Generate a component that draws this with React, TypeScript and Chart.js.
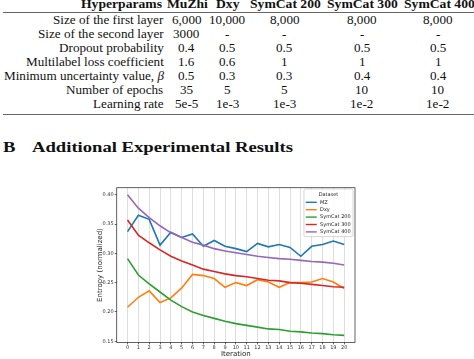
import React, { useEffect, useRef } from 'react';
import { Chart, registerables } from 'chart.js';

Chart.register(...registerables);

// ---------------- Table data ----------------
const tableHeaders = ['Hyperparams', 'MuZhi', 'Dxy', 'SymCat 200', 'SymCat 300', 'SymCat 400'];
const rowLabels = [
  'Size of the first layer',
  'Size of the second layer',
  'Dropout probability',
  'Multilabel loss coefficient',
  'Minimum uncertainty value, β',
  'Number of epochs',
  'Learning rate',
];
const muzhiParams = ['6,000', '3000', '0.4', '1.6', '0.5', '35', '5e-5'];
const dxyParams = ['10,000', '-', '0.5', '0.6', '0.3', '5', '1e-3'];
const symcat200Params = ['8,000', '-', '0.5', '1', '0.3', '5', '1e-3'];
const symcat300Params = ['8,000', '-', '0.5', '1', '0.4', '10', '1e-2'];
const symcat400Params = ['8,000', '-', '0.5', '1', '0.4', '10', '1e-2'];
const sectionLetter = 'B';
const sectionTitle = 'Additional Experimental Results';

// ---------------- Chart data ----------------
const iterations = [0, 1, 2, 3, 4, 5, 6, 7, 8, 9, 10, 11, 12, 13, 14, 15, 16, 17, 18, 19, 20];
const mzValues = [0.337, 0.365, 0.358, 0.314, 0.336, 0.327, 0.333, 0.312, 0.322, 0.312, 0.308, 0.303, 0.317, 0.311, 0.315, 0.310, 0.295, 0.312, 0.315, 0.321, 0.315];
const dxyValues = [0.208, 0.225, 0.236, 0.216, 0.224, 0.241, 0.264, 0.262, 0.257, 0.242, 0.250, 0.245, 0.255, 0.251, 0.242, 0.250, 0.250, 0.251, 0.257, 0.251, 0.240];
const symcat200Values = [0.291, 0.263, 0.248, 0.234, 0.220, 0.209, 0.200, 0.194, 0.189, 0.184, 0.180, 0.177, 0.174, 0.171, 0.170, 0.167, 0.166, 0.164, 0.163, 0.161, 0.160];
const symcat300Values = [0.357, 0.331, 0.318, 0.306, 0.295, 0.287, 0.280, 0.273, 0.269, 0.265, 0.262, 0.260, 0.257, 0.254, 0.253, 0.250, 0.249, 0.247, 0.245, 0.243, 0.242];
const symcat400Values = [0.400, 0.377, 0.361, 0.347, 0.335, 0.327, 0.319, 0.314, 0.308, 0.304, 0.301, 0.298, 0.295, 0.293, 0.291, 0.290, 0.288, 0.286, 0.285, 0.283, 0.280];
const seriesNames = ['MZ', 'Dxy', 'SymCat 200', 'SymCat 300', 'SymCat 400'];
const seriesColors = ['#1f77b4', '#ff7f0e', '#2ca02c', '#d62728', '#9467bd'];
const yTickValues = [0.15, 0.2, 0.25, 0.3, 0.35, 0.4];
const legendTitle = 'Dataset';
const xAxisTitle = 'Iteration';
const yAxisTitle = 'Entropy (normalized)';

// ---------------- Text helpers ----------------
const SERIF = '"Liberation Serif", "Times New Roman", serif';
const SANS = '"DejaVu Sans", sans-serif';
let measureCtx: CanvasRenderingContext2D | null = null;
function textWidth(text: string, font: string): number {
  if (!measureCtx) measureCtx = document.createElement('canvas').getContext('2d');
  measureCtx!.font = font;
  return measureCtx!.measureText(text).width;
}

type Part = { t: string; italic?: boolean };
function splitBeta(s: string): Part[] {
  if (s.endsWith('β')) return [{ t: s.slice(0, -1) }, { t: 'β', italic: true }];
  return [{ t: s }];
}
function fontFor(size: number, bold: boolean, italic?: boolean) {
  return `${italic ? 'italic ' : ''}${bold ? 'bold ' : ''}${size}px ${SERIF}`;
}
function partsWidth(parts: Part[], size: number, bold: boolean) {
  return parts.reduce((a, p) => a + textWidth(p.t, fontFor(size, bold, p.italic)), 0);
}

function Txt(props: { parts: Part[]; x: number; y: number; anchor: 'left' | 'right' | 'center'; size: number; bold?: boolean; sx: number }) {
  const { parts, x, y, anchor, size, bold = false, sx } = props;
  const w = partsWidth(parts, size, bold) * sx;
  const left = anchor === 'left' ? x : anchor === 'right' ? x - w : x - w / 2;
  const lh = size * 1.2;
  return (
    <div
      style={{
        position: 'absolute',
        left,
        top: y - lh / 2,
        fontFamily: SERIF,
        fontSize: size,
        fontWeight: bold ? 'bold' : 'normal',
        lineHeight: `${lh}px`,
        whiteSpace: 'nowrap',
        transform: `scaleX(${sx})`,
        transformOrigin: 'left center',
        color: '#111',
      }}
    >
      {parts.map((p, i) => (
        <span key={i} style={{ fontStyle: p.italic ? 'italic' : 'normal' }}>{p.t}</span>
      ))}
    </div>
  );
}

function TableBlock() {
  const bodySize = 12.2;
  const headSize = 12.2;
  const secSize = 15;
  const sxBody = 160 / partsWidth(splitBeta(rowLabels[4]), bodySize, false);
  const sxHead = 81 / partsWidth([{ t: tableHeaders[0] }], headSize, true);
  const sxSec = 261 / partsWidth([{ t: sectionTitle }], secSize, true);
  const colCenters = [186.5, 227.5, 284.5, 362, 438];
  const headCenters = [187, 228, 285, 362, 439];
  const labelRight = 163.5;
  const headerY = 4.5;
  const rowY0 = 20;
  const rowStep = 14.05;
  const columns = [muzhiParams, dxyParams, symcat200Params, symcat300Params, symcat400Params];
  const els: React.ReactNode[] = [];
  els.push(<Txt key="h0" parts={[{ t: tableHeaders[0] }]} x={162} y={headerY} anchor="right" size={headSize} bold sx={sxHead} />);
  for (let c = 1; c < tableHeaders.length; c++) {
    els.push(<Txt key={'h' + c} parts={[{ t: tableHeaders[c] }]} x={headCenters[c - 1]} y={headerY} anchor="center" size={headSize} bold sx={sxHead} />);
  }
  rowLabels.forEach((lab, r) => {
    const y = rowY0 + r * rowStep;
    els.push(<Txt key={'l' + r} parts={splitBeta(lab)} x={labelRight} y={y} anchor="right" size={bodySize} sx={sxBody} />);
    columns.forEach((col, c) => {
      els.push(<Txt key={`c${r}_${c}`} parts={[{ t: col[r] }]} x={colCenters[c]} y={y} anchor="center" size={bodySize} sx={sxBody} />);
    });
  });
  els.push(<div key="rule1" style={{ position: 'absolute', left: 3, top: 12, width: 480, height: 1.4, background: '#666' }} />);
  els.push(<div key="rule2" style={{ position: 'absolute', left: 3, top: 113.6, width: 480, height: 1.4, background: '#666' }} />);
  els.push(<Txt key="secB" parts={[{ t: sectionLetter }]} x={3} y={146.8} anchor="left" size={secSize} bold sx={sxSec} />);
  els.push(<Txt key="secT" parts={[{ t: sectionTitle }]} x={32} y={146.8} anchor="left" size={secSize} bold sx={sxSec} />);
  return <>{els}</>;
}

// ---------------- Chart ----------------
const framePlugin = {
  id: 'mplFrame',
  afterDraw(chart: any) {
    const { ctx, chartArea } = chart;
    ctx.save();
    ctx.strokeStyle = '#3a3a3a';
    ctx.lineWidth = 0.8;
    ctx.strokeRect(chartArea.left, chartArea.top, chartArea.right - chartArea.left, chartArea.bottom - chartArea.top);
    ctx.restore();
  },
};

const legendPlugin = {
  id: 'mplLegend',
  afterDatasetsDraw(chart: any) {
    const { ctx, chartArea } = chart;
    const fontPx = 5;
    ctx.save();
    ctx.font = `${fontPx}px ${SANS}`;
    const labels: string[] = chart.data.datasets.map((d: any) => d.label);
    const textW = Math.max(...labels.map((l) => ctx.measureText(l).width));
    const padL = 1.8, lineLen = 11, gap = 3.3, padR = 2.3;
    const boxW = padL + lineLen + gap + textW + padR;
    const rowH = 7.4;
    const boxH = 13.3 + rowH * (labels.length - 1) + 4.7;
    const right = chartArea.right - 2;
    const left = right - boxW;
    const top = chartArea.top + 1.3;
    ctx.beginPath();
    const r = 1.5;
    ctx.moveTo(left + r, top);
    ctx.lineTo(left + boxW - r, top);
    ctx.quadraticCurveTo(left + boxW, top, left + boxW, top + r);
    ctx.lineTo(left + boxW, top + boxH - r);
    ctx.quadraticCurveTo(left + boxW, top + boxH, left + boxW - r, top + boxH);
    ctx.lineTo(left + r, top + boxH);
    ctx.quadraticCurveTo(left, top + boxH, left, top + boxH - r);
    ctx.lineTo(left, top + r);
    ctx.quadraticCurveTo(left, top, left + r, top);
    ctx.closePath();
    ctx.fillStyle = 'rgba(255,255,255,0.85)';
    ctx.fill();
    ctx.strokeStyle = '#cccccc';
    ctx.lineWidth = 0.8;
    ctx.stroke();
    ctx.fillStyle = '#222';
    ctx.textBaseline = 'middle';
    ctx.textAlign = 'center';
    ctx.fillText(legendTitle, left + boxW / 2, top + 6);
    ctx.textAlign = 'left';
    chart.data.datasets.forEach((d: any, i: number) => {
      const y = top + 13.3 + i * rowH;
      ctx.strokeStyle = d.borderColor;
      ctx.lineWidth = 1.4;
      ctx.beginPath();
      ctx.moveTo(left + padL, y);
      ctx.lineTo(left + padL + lineLen, y);
      ctx.stroke();
      ctx.fillStyle = '#222';
      ctx.fillText(d.label, left + padL + lineLen + gap, y);
    });
    ctx.restore();
  },
};

function EntropyChart() {
  const ref = useRef<HTMLCanvasElement | null>(null);
  useEffect(() => {
    if (!ref.current) return;
    const seriesValues = [mzValues, dxyValues, symcat200Values, symcat300Values, symcat400Values];
    const datasets = seriesNames.map((name, i) => ({
      label: name,
      data: seriesValues[i].map((v, j) => ({ x: iterations[j], y: v })),
      borderColor: seriesColors[i],
      backgroundColor: seriesColors[i],
      borderWidth: 1.6,
      pointRadius: 0,
      tension: 0,
      fill: false,
      order: seriesNames.length - i,
    }));
    const tickFont = { family: SANS, size: 5 };
    const titleFont = { family: SANS, size: 7 };
    const chart = new Chart(ref.current, {
      type: 'line',
      data: { datasets },
      options: {
        animation: false,
        responsive: false,
        devicePixelRatio: 1,
        layout: { padding: { left: 0, right: 5, top: 7.7, bottom: 0 } },
        plugins: { legend: { display: false }, tooltip: { enabled: false } },
        scales: {
          x: {
            type: 'linear',
            min: -1,
            max: 21,
            afterBuildTicks: (s: any) => { s.ticks = iterations.map((v) => ({ value: v })); },
            afterFit: (s: any) => { s.height = 16.6; },
            ticks: { font: tickFont, color: '#333', padding: 0, maxRotation: 0, autoSkip: false, callback: (v: any) => String(v) },
            grid: { display: true, drawOnChartArea: true, color: '#d6d6d6', lineWidth: 0.8, drawTicks: true, tickLength: 2, tickColor: '#444', tickWidth: 0.8 },
            border: { display: false },
            title: { display: true, text: xAxisTitle, font: titleFont, color: '#222', padding: { top: 0, bottom: 0.8 } },
          },
          y: {
            type: 'linear',
            min: 0.148,
            max: 0.412,
            afterBuildTicks: (s: any) => { s.ticks = yTickValues.map((v) => ({ value: v })); },
            afterFit: (s: any) => { s.width = 26.7; },
            ticks: { font: tickFont, color: '#333', padding: 1, callback: (v: any) => Number(v).toFixed(2) },
            grid: { display: true, drawOnChartArea: false, drawTicks: true, tickLength: 2, tickColor: '#444', tickWidth: 0.8 },
            border: { display: false },
            title: { display: true, text: yAxisTitle, font: titleFont, color: '#222', padding: { top: 5.8, bottom: 0 } },
          },
        },
      },
      plugins: [framePlugin, legendPlugin],
    } as any);
    return () => chart.destroy();
  }, []);
  return (
    <canvas
      ref={ref}
      width={270}
      height={179}
      style={{ position: 'absolute', left: 90, top: 180, width: 270, height: 179 }}
    />
  );
}

export default function App() {
  return (
    <div style={{ position: 'absolute', left: 0, top: 0, width: 474, height: 359, overflow: 'hidden', background: '#fff' }}>
      <TableBlock />
      <EntropyChart />
    </div>
  );
}
